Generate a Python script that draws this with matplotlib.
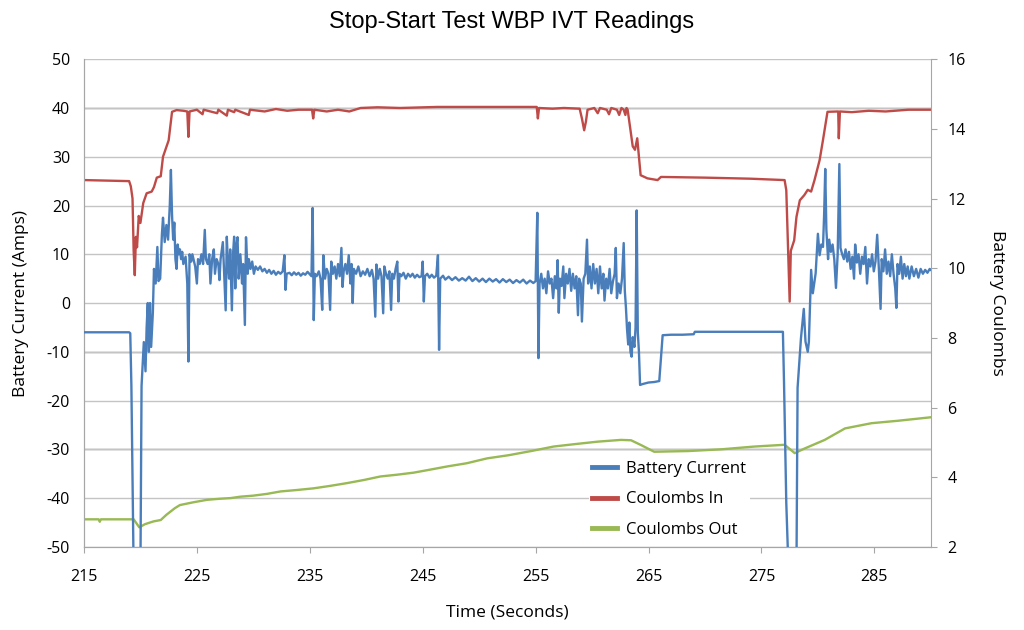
import matplotlib
matplotlib.use("Agg")
import matplotlib.pyplot as plt
from matplotlib.lines import Line2D

plt.rcParams['axes.unicode_minus'] = False

# Battery current (left axis, Amps)
cur_t = [215.0, 219.0, 219.1, 219.2, 219.3, 219.4, 220.0, 220.1, 220.3, 220.45, 220.55, 220.65, 220.75, 220.85,
         220.95, 221.1, 221.2, 221.35, 221.5, 221.6, 221.75, 221.9, 222.0, 222.15, 222.3, 222.45, 222.6, 222.7,
         222.8, 222.9, 223.0, 223.1, 223.2, 223.3, 223.4, 223.5, 223.6, 223.7, 223.8, 224.0, 224.15, 224.25,
         224.35, 224.5, 224.6, 224.7, 224.85, 225.0, 225.1, 225.25, 225.4, 225.55, 225.7, 225.8, 225.95, 226.1,
         226.2, 226.35, 226.5, 226.6, 226.75, 226.9, 227.0, 227.1, 227.3, 227.4, 227.55, 227.65, 227.75, 227.85,
         227.95, 228.1, 228.2, 228.3, 228.4, 228.5, 228.6, 228.7, 228.85, 229.0, 229.1, 229.25, 229.35, 229.5,
         229.6, 229.75, 229.9, 230.05, 230.2, 230.4, 230.6, 230.8, 231.0, 231.2, 231.4, 231.6, 231.8, 232.0,
         232.2, 232.4, 232.6, 232.75, 232.85, 232.95, 233.2, 233.4, 233.6, 233.8, 234.0, 234.2, 234.4, 234.6,
         234.8, 235.0, 235.15, 235.25, 235.35, 235.45, 235.6, 235.8, 235.95, 236.1, 236.2, 236.35, 236.5, 236.65,
         236.8, 236.9, 237.05, 237.2, 237.35, 237.5, 237.65, 237.8, 237.9, 238.0, 238.15, 238.3, 238.45, 238.6,
         238.7, 238.8, 238.9, 239.1, 239.3, 239.5, 239.7, 239.9, 240.1, 240.3, 240.5, 240.65, 240.8, 240.9,
         241.05, 241.2, 241.35, 241.5, 241.6, 241.75, 241.9, 242.05, 242.2, 242.3, 242.45, 242.6, 242.75, 242.85,
         242.95, 243.1, 243.3, 243.5, 243.7, 243.9, 244.1, 244.3, 244.5, 244.7, 244.9, 245.0, 245.1, 245.2,
         245.4, 245.6, 245.8, 246.0, 246.2, 246.35, 246.45, 246.55, 246.8, 247.0, 247.3, 247.6, 247.9, 248.2,
         248.5, 248.8, 249.1, 249.4, 249.7, 250.0, 250.3, 250.6, 250.9, 251.2, 251.5, 251.8, 252.1, 252.4,
         252.7, 253.0, 253.3, 253.6, 253.9, 254.2, 254.5, 254.8, 255.0, 255.15, 255.25, 255.35, 255.5, 255.65,
         255.8, 255.95, 256.1, 256.25, 256.4, 256.55, 256.7, 256.85, 256.95, 257.05, 257.15, 257.3, 257.45,
         257.55, 257.7, 257.85, 258.0, 258.15, 258.3, 258.45, 258.6, 258.75, 258.85, 259.0, 259.1, 259.25,
         259.4, 259.55, 259.65, 259.8, 259.95, 260.1, 260.25, 260.4, 260.55, 260.7, 260.85, 261.0, 261.1,
         261.25, 261.4, 261.55, 261.7, 261.85, 262.0, 262.1, 262.2, 262.35, 262.5, 262.65, 262.8, 262.9, 263.0,
         263.1, 263.2, 263.3, 263.4, 263.5, 263.6, 263.75, 263.85, 263.95, 264.05, 264.15, 264.25, 264.5,
         265.0, 265.5, 265.95, 266.25, 267.0, 268.0, 269.0, 269.1, 276.9, 277.0, 277.2, 277.4, 278.1, 278.2,
         278.5, 278.75, 278.9, 279.1, 279.2, 279.4, 279.55, 279.8, 280.0, 280.15, 280.3, 280.45, 280.55,
         280.65, 280.75, 280.9, 281.0, 281.15, 281.3, 281.45, 281.6, 281.75, 281.9, 282.0, 282.15, 282.3,
         282.45, 282.6, 282.75, 282.9, 283.05, 283.2, 283.3, 283.45, 283.6, 283.75, 283.9, 284.05, 284.2,
         284.35, 284.5, 284.65, 284.8, 284.95, 285.1, 285.25, 285.4, 285.55, 285.65, 285.8, 285.95, 286.1,
         286.25, 286.4, 286.55, 286.7, 286.85, 286.95, 287.05, 287.2, 287.35, 287.5, 287.65, 287.8, 287.95,
         288.1, 288.3, 288.5, 288.7, 288.9, 289.1, 289.3, 289.5, 289.7, 289.9, 290.0]
cur_v = [-6, -6, -6.2, -17, -36, -55, -55, -17, -8, -14, -5, 0, -10, 0,
         -9, -2, 7, 4, 11.5, 4.5, 5, 14, 17.5, 12.5, 16, 13, 20, 27.3,
         18, 13, 16.5, 9, 7, 12, 10, 11, 9, 10.5, 8, 9.5, 4, -12,
         10, 8.5, 10, 9, 7.5, 4, 9, 8, 10, 8, 15, 9, 8, 10,
         4, 9, 11, 6, 9, 8, 4.7, 9, 12.5, 7, -1.5, 13.6, 8, 5,
         11, -1.5, 10, 13.6, 3, 12, 13.5, 5, 10, 4, 8, -4.5, 13.5, 6,
         9, 7, 8.5, 6, 7.5, 6.8, 7.5, 6.5, 7, 6.2, 6.8, 6, 6.6, 5.8,
         6.4, 6, 6.5, 9.8, 2.7, 6, 6.2, 5.7, 6.3, 5.8, 6.2, 5.6, 6.1, 5.8,
         6.4, 5.9, 5.5, 19.5, -3.5, 6, 5.5, 6.5, 5, -1.4, 9.8, 5, 7, 6,
         -1.4, 8.5, 6, 7.5, 5, 8, 5.5, 11.3, 3.3, 6.5, 8, 6, 9.8, 4,
         8, 0, 7, 6, 7.5, 5.5, 6.5, 5.8, 7, 5.5, 6.8, 5, -2.8, 7.9,
         5, 7, 5.5, -2.1, 7.5, 6, 5, 6.5, -1.4, 6, 5, 7, 8.5, 0.3,
         6, 5.5, 6.2, 5, 6, 5.4, 6, 5.2, 5.8, 5.3, 5.5, 8.5, 0.3, 5.5,
         6, 5.2, 5.8, 5.2, 5.6, 9.8, -9.6, 5, 5.6, 4.8, 5.4, 4.7, 5.3, 4.6,
         5.1, 4.6, 5.4, 4.5, 5.1, 4.4, 5, 4.3, 5, 4.4, 4.9, 4.2, 4.9, 4.3,
         4.8, 4.1, 4.7, 4.2, 4.8, 4, 4.6, 4.1, 4.5, 18.5, -11.3, 4, 6, 3,
         5, 2, 6.5, 4, 5, 1, 5.5, 3, 8.8, -2, 5, 3.5, 7.5,
         1, 6, 4, 7, 2.5, 6, 3, 5.5, -2.5, 5, 4, -3.8, 5,
         6, 13, 4, 7.5, 3, 8, 4, 7, 2, 7.5, 3, 6, 0.5,
         5, 3, 7, 2, 4.5, 6, 11.3, 1, 4, 2, 5, 12.3, 2.5, -1,
         -5.5, -8.5, -4, -10, -11, -7, -9, -5, 19, -6, -10, -16.8, -16.6,
         -16.3, -16.2, -16, -6.6, -6.5, -6.5, -6.4, -5.9, -5.9, -16.4, -41, -55, -55, -17.4,
         -7.2, -1.2, -7.9, -10, -8, 6.8, 2, 6.1, 14.2, 9.8, 12, 11.5, 18,
         27.5, 15, 9, 13, 10.5, 12, 9, 3.1, 10, 28.5, 11.3, 10, 9,
         11, 8.5, 10.5, 7, 9.5, 5, 12, 8.3, 10, 6, 9.5, 8, 11.5,
         4, 9, 7.5, 10, 6.5, 8.5, 14, 7, -1.2, 9, 6.5, 11, 6,
         8.5, 5.5, 10, 6, 3, -1, 8, 6, 9.5, 5, 8, 5.5, 7.5,
         5, 7.5, 5.5, 7, 5.2, 7, 6, 6.8, 6.2, 7, 6.8]

# Coulombs in (right axis)
cin_t = [215.0, 219.0, 219.15, 219.3, 219.4, 219.5, 219.6, 219.7, 219.85, 220.0, 220.25, 220.55, 221.0, 221.2,
         221.45, 221.8, 222.0, 222.5, 222.8, 223.2, 223.8, 224.15, 224.25, 224.35, 225.0, 225.5, 225.6, 226.8,
         226.9, 227.65, 227.75, 228.3, 228.4, 229.6, 229.7, 231.0, 232.0, 233.0, 234.0, 235.2, 235.3, 235.4,
         236.5, 237.5, 238.5, 239.5, 241.0, 243.0, 246.3, 255.1, 255.2, 255.3, 256.5, 257.5, 258.9, 259.1,
         259.3, 259.45, 259.6, 260.2, 260.5, 260.7, 261.3, 261.5, 261.7, 262.2, 262.4, 262.6, 262.8, 262.95,
         263.05, 263.15, 263.6, 263.8, 264.0, 264.3, 264.9, 265.8, 266.1, 270.0, 274.0, 277.05, 277.2, 277.5,
         277.6, 277.9, 278.1, 278.4, 278.8, 279.1, 279.4, 279.7, 280.15, 280.45, 280.85, 281.8, 281.85, 281.95,
         283.0, 284.5, 286.0, 288.0, 290.0]
cin_v = [12.53, 12.5, 12.35, 12.0, 10.5, 9.8, 10.9, 10.6, 11.5, 11.3, 11.87, 12.15, 12.2, 12.33,
         12.6, 12.64, 13.2, 13.67, 14.49, 14.54, 14.52, 14.5, 13.77, 14.5, 14.55, 14.42, 14.55, 14.45,
         14.55, 14.38, 14.55, 14.48, 14.55, 14.4, 14.55, 14.5, 14.57, 14.52, 14.55, 14.55, 14.3, 14.55,
         14.5, 14.55, 14.5, 14.6, 14.62, 14.6, 14.63, 14.63, 14.3, 14.6, 14.58, 14.6, 14.58, 14.3,
         13.96, 14.2, 14.55, 14.6, 14.45, 14.6, 14.55, 14.42, 14.6, 14.55, 14.4, 14.6, 14.55, 14.4,
         14.6, 14.55, 13.5, 13.4, 13.73, 12.67, 12.58, 12.53, 12.62, 12.6, 12.57, 12.53, 12.24, 9.04,
         10.5, 10.8, 11.47, 11.95, 12.1, 12.25, 12.2, 12.53, 13.1, 13.68, 14.49, 14.5, 13.73, 14.5,
         14.48, 14.52, 14.5, 14.55, 14.55]

# Coulombs out (right axis)
cout_t = [215.0, 216.3, 216.4, 216.5, 219.4, 219.9, 220.4, 221.15, 221.8, 222.3, 223.05, 223.5, 223.95, 224.7,
          225.9, 227.0, 228.0, 228.85, 230.0, 231.2, 232.4, 233.8, 235.35, 236.8, 238.3, 239.8, 241.25, 242.7,
          244.2, 245.55, 247.2, 248.9, 250.7, 252.6, 254.6, 256.6, 258.5, 260.5, 262.55, 263.45, 264.35, 265.5,
          268.5, 271.45, 274.4, 277.05, 277.95, 278.8, 280.6, 282.4, 284.75, 287.1, 290.0]
cout_v = [2.79, 2.79, 2.72, 2.79, 2.79, 2.56, 2.65, 2.73, 2.77, 2.92, 3.11, 3.2, 3.23, 3.28,
          3.35, 3.38, 3.4, 3.44, 3.47, 3.52, 3.59, 3.63, 3.68, 3.75, 3.83, 3.92, 4.02, 4.07,
          4.13, 4.21, 4.31, 4.4, 4.54, 4.63, 4.75, 4.88, 4.95, 5.02, 5.07, 5.06, 4.92, 4.73,
          4.75, 4.8, 4.88, 4.93, 4.69, 4.82, 5.07, 5.4, 5.55, 5.62, 5.72]

x_ticks = [215, 225, 235, 245, 255, 265, 275, 285]
left_ticks = [-50, -40, -30, -20, -10, 0, 10, 20, 30, 40, 50]
right_ticks = [2, 4, 6, 8, 10, 12, 14, 16]
dark_grid = [40, -10, -30]

BLUE = '#4A7EBB'
RED = '#BE4B48'
GREEN = '#98B954'
SPINE = '#A6A6A6'
LBL = 'Open Sans'

fig = plt.figure(figsize=(10.24, 6.3), dpi=100)
ax = fig.add_axes([0.082, 0.132, 0.827, 0.774])
ax2 = ax.twinx()
ax3 = ax.twinx()

ax.set_xlim(215, 290)
ax.set_ylim(-50, 50)
ax.set_yticks(left_ticks)
ax.set_xticks(x_ticks)
ax.yaxis.grid(True, color='#C4C4C4', lw=1)
ax.set_axisbelow(True)
for v in dark_grid:
    ax.axhline(v, color='#8C8C8C', lw=1, zorder=0.5)

ax2.set_ylim(2, 16)
ax2.set_yticks(right_ticks)
ax3.set_ylim(-50, 50)
ax3.set_yticks([])

ax2.plot(cin_t, cin_v, color=RED, lw=1.7)
ax2.plot(cout_t, cout_v, color=GREEN, lw=1.7)
ax3.plot(cur_t, cur_v, color=BLUE, lw=1.7)

for a in (ax, ax2, ax3):
    a.spines['top'].set_visible(False)
    for s in ('left', 'right', 'bottom'):
        a.spines[s].set_color(SPINE)
ax.spines['right'].set_visible(False)
ax3.spines['left'].set_visible(False)
ax3.spines['right'].set_visible(False)
ax3.spines['bottom'].set_visible(False)

ax.tick_params(axis='x', length=4, color=SPINE, pad=12, labelsize=11.5)
ax.tick_params(axis='y', length=0, pad=10, labelsize=11.5)
ax2.tick_params(axis='y', length=4, color=SPINE, pad=8, labelsize=11.5)
for lab in ax.get_xticklabels() + ax.get_yticklabels() + ax2.get_yticklabels():
    lab.set_family(LBL)

ax.set_xlabel('Time (Seconds)', family=LBL, fontsize=12.5, labelpad=14)
ax.set_ylabel('Battery Current (Amps)', family=LBL, fontsize=12.5, labelpad=13)
ax2.set_ylabel('Battery Coulombs', family=LBL, fontsize=12.5, rotation=270, labelpad=28)
fig.suptitle('Stop-Start Test WBP IVT Readings', family='Liberation Sans', fontsize=17,
             y=0.965, va='center')

handles = [Line2D([], [], color=BLUE, lw=3.5), Line2D([], [], color=RED, lw=3.5),
           Line2D([], [], color=GREEN, lw=3.5)]
leg = ax3.legend(handles, ['Battery Current', 'Coulombs In', 'Coulombs Out'],
                 loc='lower left', bbox_to_anchor=(0.596, 0.012), borderaxespad=0, borderpad=0.2,
                 frameon=True, fancybox=False, edgecolor='none', facecolor='white',
                 framealpha=1, handlelength=1.5, handletextpad=0.55, labelspacing=0.85,
                 prop={'family': LBL, 'size': 12})

fig.savefig('out.png', dpi=100)
